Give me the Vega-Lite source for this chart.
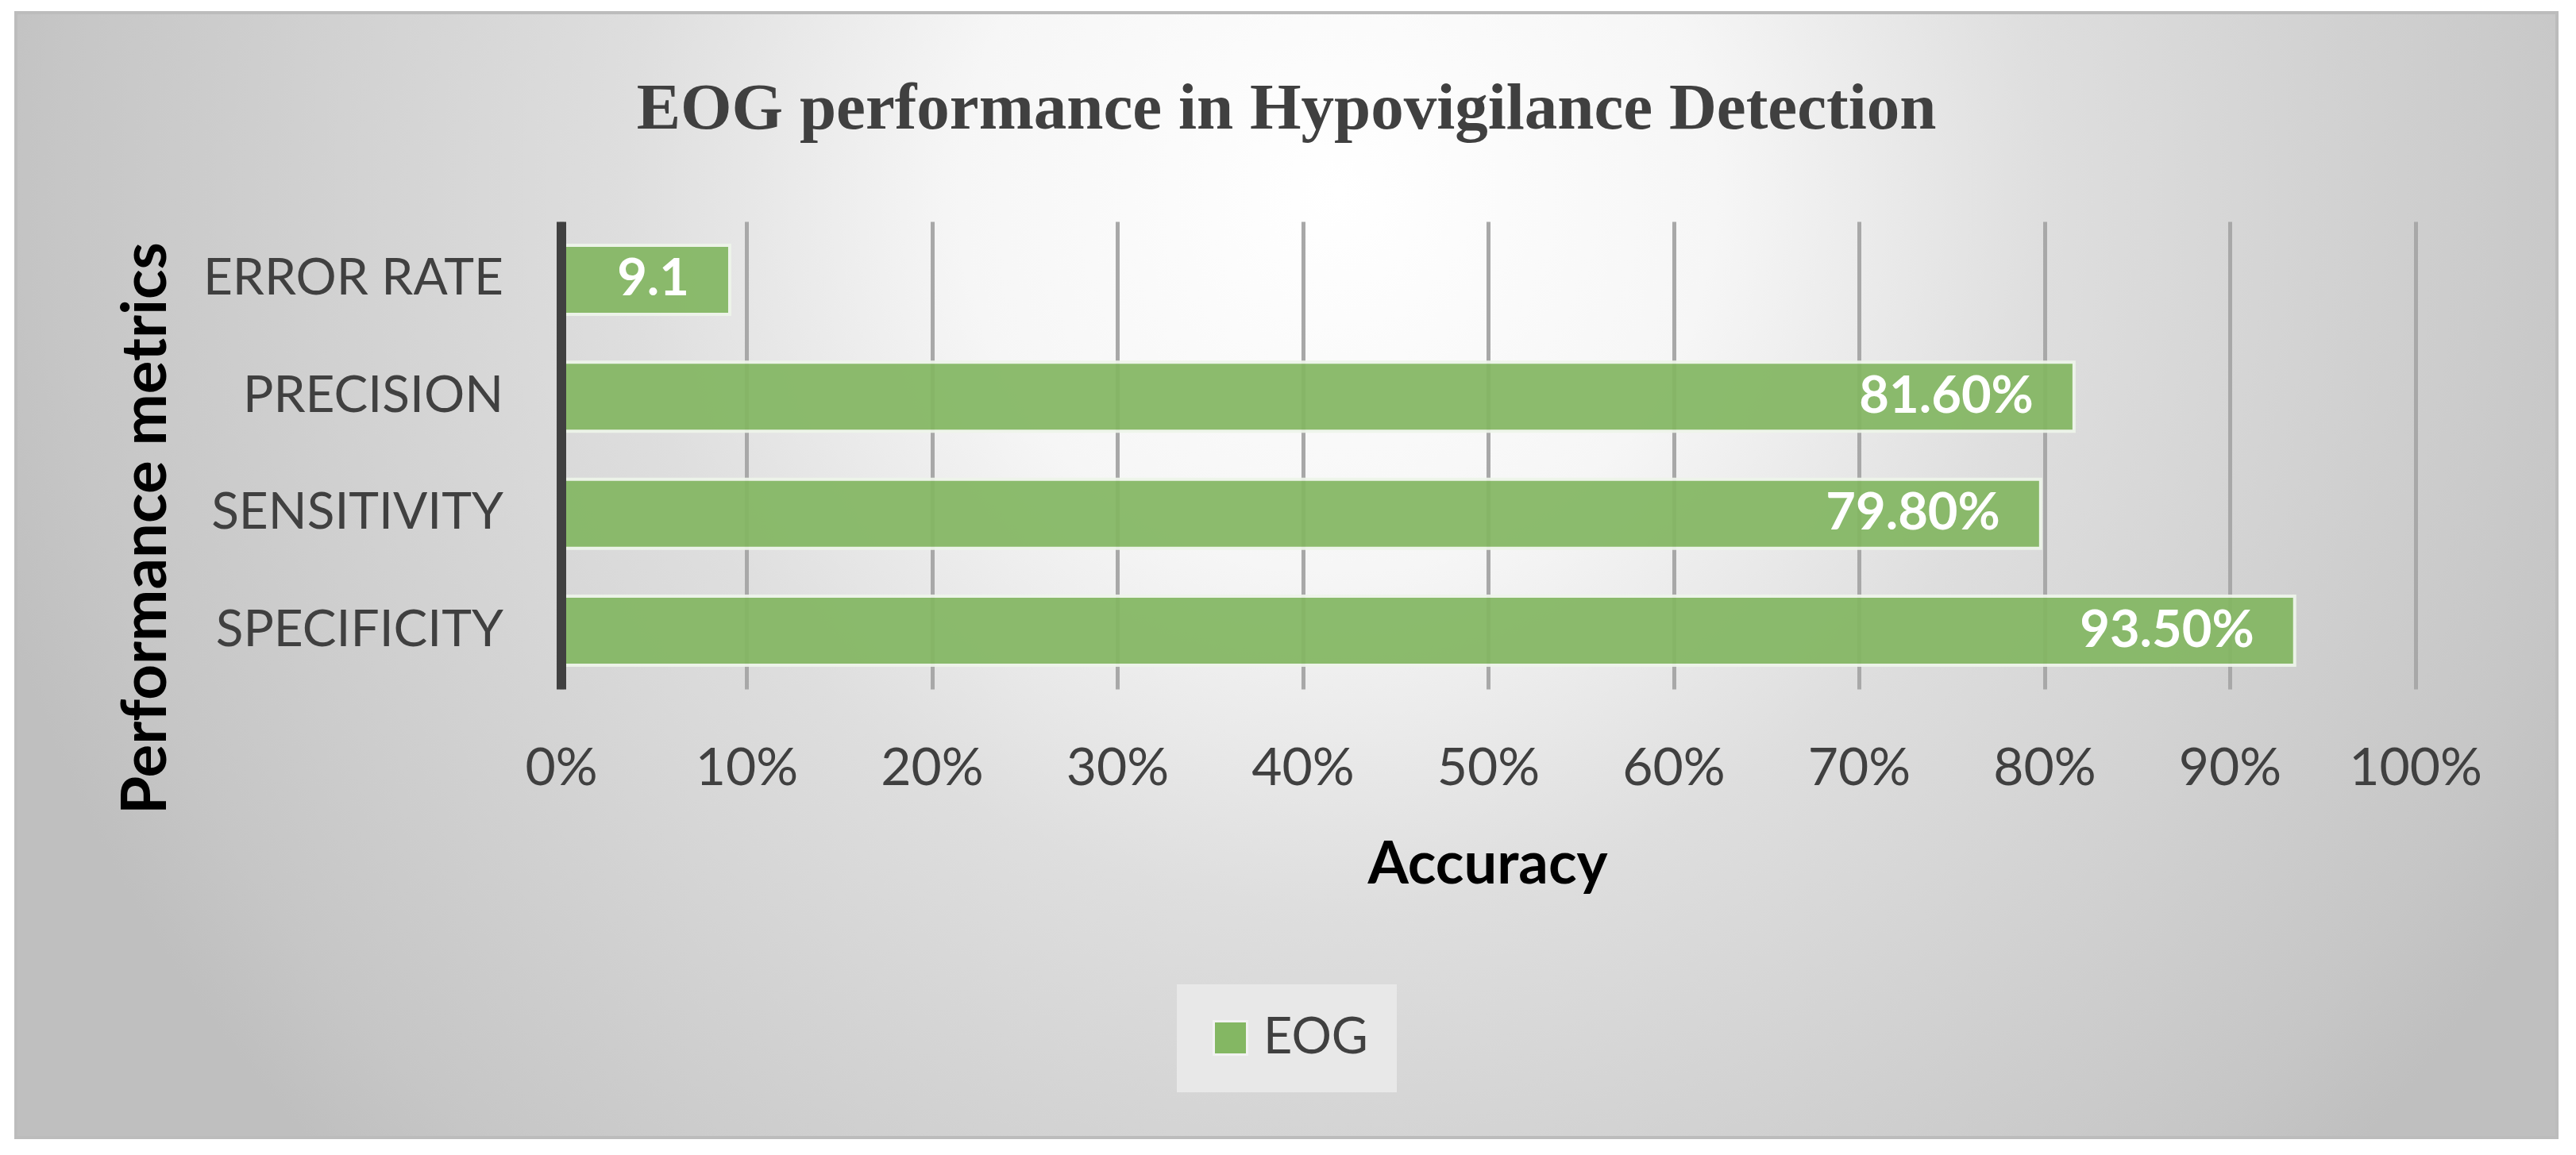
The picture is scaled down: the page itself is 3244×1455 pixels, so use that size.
{
  "$schema": "https://vega.github.io/schema/vega-lite/v6.json",
  "width": 3200,
  "height": 1417,
  "autosize": {"type": "none"},
  "padding": {"left": 20, "top": 16, "right": 24, "bottom": 22},
  "background": "#ffffff",
  "title": {
    "text": "EOG performance in Hypovigilance Detection",
    "font": "Liberation Serif",
    "fontSize": 83,
    "fontWeight": "bold",
    "color": "#404040",
    "anchor": "middle",
    "frame": "group",
    "baseline": "alphabetic",
    "offset": -229
  },
  "view": {
    "fill": {
      "gradient": "radial",
      "x1": 0.52, "y1": 0.35, "r1": 0,
      "x2": 0.52, "y2": 0.35, "r2": 0.55,
      "stops": [
        {"offset": 0, "color": "#ffffff"},
        {"offset": 0.27, "color": "#f6f6f6"},
        {"offset": 0.51, "color": "#dedede"},
        {"offset": 0.915, "color": "#c6c6c6"},
        {"offset": 1, "color": "#bfbfbf"}
      ]
    },
    "stroke": "#bcbcbc",
    "strokeWidth": 4
  },
  "data": {
    "values": [
      {"metric": "ERROR RATE", "value": 9.1, "label": "9.1", "series": "EOG"},
      {"metric": "PRECISION", "value": 81.6, "label": "81.60%", "series": "EOG"},
      {"metric": "SENSITIVITY", "value": 79.8, "label": "79.80%", "series": "EOG"},
      {"metric": "SPECIFICITY", "value": 93.5, "label": "93.50%", "series": "EOG"}
    ]
  },
  "encoding": {
    "y": {
      "field": "metric",
      "type": "nominal",
      "sort": null,
      "scale": {"range": [263, 852], "paddingInner": 0.4095, "paddingOuter": 0.2036},
      "axis": {
        "orient": "left",
        "offset": -686.5,
        "title": "Performance metrics",
        "titleFont": "Lato",
        "titleFontSize": 78,
        "titleFontWeight": "bold",
        "titleColor": "#000000",
        "titleX": -498,
        "titleY": 649,
        "titleAngle": -90,
        "titleAlign": "center",
        "titleBaseline": "alphabetic",
        "labelFont": "Lato",
        "labelFontSize": 64,
        "labelColor": "#404040",
        "labelPadding": 73,
        "labelLimit": 1000,
        "ticks": false,
        "tickSize": 0,
        "domainColor": "#404040",
        "domainWidth": 12,
        "grid": false,
        "zindex": 1
      }
    },
    "x": {
      "field": "value",
      "type": "quantitative",
      "scale": {"domain": [0, 100], "range": [686.5, 3021.5], "nice": false, "zero": true},
      "axis": {
        "orient": "top",
        "offset": -852,
        "values": [0, 10, 20, 30, 40, 50, 60, 70, 80, 90, 100],
        "labelExpr": "datum.value + '%'",
        "labelFont": "Lato",
        "labelFontSize": 66,
        "labelColor": "#404040",
        "labelPadding": -120,
        "labelBaseline": "alphabetic",
        "labelFlush": false,
        "labelOverlap": false,
        "labelBound": false,
        "domain": false,
        "ticks": false,
        "tickSize": 0,
        "grid": true,
        "gridColor": "#a8a8a8",
        "gridWidth": 5,
        "title": "Accuracy",
        "titleFont": "Lato",
        "titleFontSize": 74,
        "titleFontWeight": "bold",
        "titleColor": "#000000",
        "titleX": 1853,
        "titleY": 244,
        "titleAlign": "center",
        "titleBaseline": "alphabetic"
      }
    }
  },
  "layer": [
    {
      "mark": {"type": "bar", "opacity": 0.93, "stroke": "#eef5ea", "strokeWidth": 4},
      "encoding": {
        "color": {
          "field": "series",
          "type": "nominal",
          "scale": {"range": ["#84b763"]},
          "legend": {
            "title": null,
            "orient": "none",
            "legendX": 1462,
            "legendY": 1224,
            "fillColor": "#e8e8e8",
            "padding": 36,
            "symbolType": "square",
            "symbolSize": 1764,
            "symbolStrokeColor": "#f2f2f2",
            "symbolStrokeWidth": 3,
            "symbolOpacity": 1,
            "labelFont": "Lato",
            "labelFontSize": 63,
            "labelColor": "#404040",
            "labelOffset": 10
          }
        }
      }
    },
    {
      "mark": {
        "type": "text",
        "align": "right",
        "baseline": "middle",
        "dx": -51,
        "font": "Lato",
        "fontSize": 65,
        "fontWeight": "bold",
        "fill": "#ffffff"
      },
      "encoding": {"text": {"field": "label"}}
    }
  ]
}
